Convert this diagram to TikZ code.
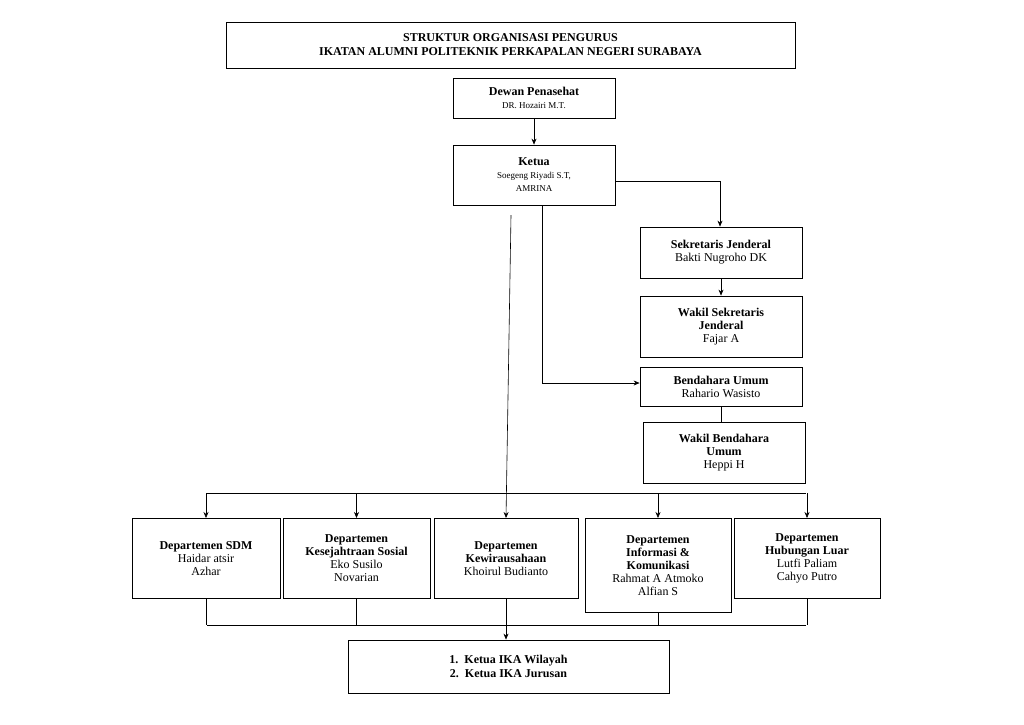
\documentclass[tikz,border=0pt]{standalone}
\usepackage{fontspec}
\setmainfont{Liberation Serif}
\usetikzlibrary{arrows.meta}
\begin{document}
\begin{tikzpicture}[x=1pt,y=-1pt,
 box/.style={draw,thick,align=center,inner sep=1pt,font=\fontsize{12}{13}\selectfont},
 arr/.style={-{Stealth[length=6pt,width=5pt]}},
 ln/.style={line width=0.6pt}]
\useasboundingbox (0,0) rectangle (1024,724);
\node[box,minimum width=569,minimum height=46,font=\fontsize{12}{14}\selectfont\bfseries] (title) at (510.5,45) {STRUKTUR ORGANISASI PENGURUS\\IKATAN ALUMNI POLITEKNIK PERKAPALAN NEGERI SURABAYA};
\node[box,minimum width=162,minimum height=40] (dewan) at (534,98) {\textbf{Dewan Penasehat}\\{\small DR. Hozairi M.T.}};
\node[box,minimum width=162,minimum height=60] (ketua) at (534,175) {\textbf{Ketua}\\{\small Soegeng Riyadi S.T,}\\{\small AMRINA}};
\node[box,minimum width=162,minimum height=51] (sek) at (721,252.5) {\textbf{Sekretaris Jenderal}\\Bakti Nugroho DK};
\node[box,minimum width=162,minimum height=61] (wsek) at (721,326.5) {\textbf{Wakil Sekretaris}\\\textbf{Jenderal}\\Fajar A};
\node[box,minimum width=162,minimum height=39] (bend) at (721,386.5) {\textbf{Bendahara Umum}\\Rahario Wasisto};
\node[box,minimum width=162,minimum height=61] (wbend) at (724,452.5) {\textbf{Wakil Bendahara}\\\textbf{Umum}\\Heppi H};
\node[box,minimum width=148,minimum height=80,anchor=north] (d1) at (206,518) {\textbf{Departemen SDM}\\Haidar atsir\\Azhar};
\node[box,minimum width=147,minimum height=80,anchor=north] (d2) at (356.5,518) {\textbf{Departemen}\\\textbf{Kesejahtraan Sosial}\\Eko Susilo\\Novarian};
\node[box,minimum width=144,minimum height=80,anchor=north] (d3) at (506,518) {\textbf{Departemen}\\\textbf{Kewirausahaan}\\Khoirul Budianto};
\node[box,minimum width=146,minimum height=94,anchor=north] (d4) at (658,518) {\textbf{Departemen}\\\textbf{Informasi \&}\\\textbf{Komunikasi}\\Rahmat A Atmoko\\Alfian S};
\node[box,minimum width=146,minimum height=80,anchor=north] (d5) at (807,518) {\textbf{Departemen}\\\textbf{Hubungan Luar}\\Lutfi Paliam\\Cahyo Putro};
\node[box,minimum width=321,minimum height=53,font=\fontsize{12}{14}\selectfont\bfseries] (bot) at (508.5,666.5) {1.\ \ Ketua IKA Wilayah\\2.\ \ Ketua IKA Jurusan};
\draw[ln,arr] (dewan.south) -- (ketua.north);
\draw[ln,arr] (ketua.east |- 0,181) -- (720,181) -- (sek.north -| 720,0);
\draw[ln,arr] (sek.south) -- (wsek.north);
\draw[ln] (bend.south) -- (bend.south |- wbend.north);
\draw[ln,arr] (542,205) -- (542,383) -- (bend.west |- 0,383);
\draw[ln,arr] (511,215) -- (d3.north);
\coordinate (bl) at (207,493); \coordinate (br) at (806,493);
\draw[ln] (bl) -- (br);
\foreach \d in {d1,d2,d4,d5} \draw[ln,arr] (\d.north |- bl) -- (\d.north);
\draw[ln] (207,625) -- (806,625);
\foreach \d in {d1,d2,d4,d5} \draw[ln] (\d.south) -- (\d.south |- 0,625);
\draw[ln,arr] (d3.south) -- (bot.north -| d3.south);
\end{tikzpicture}
\end{document}
